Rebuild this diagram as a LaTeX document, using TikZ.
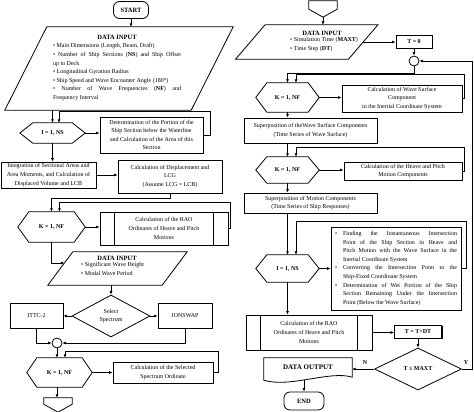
\documentclass[tikz,border=0pt]{standalone}
\usepackage{fontspec}
\setmainfont{Liberation Serif}
\usetikzlibrary{arrows.meta,shapes.geometric,shadows}
\newcommand\hexnode[7]{%
  \node[hexlabel,minimum width=#4pt,minimum height=#5pt] (#1) at (#2,#3) {#7};
  \draw[line] (#1.west) -- ([xshift=#6pt]#1.north west) -- ([xshift=-#6pt]#1.north east) -- (#1.east)
    -- ([xshift=-#6pt]#1.south east) -- ([xshift=#6pt]#1.south west) -- cycle;}
\newcommand\bul{\hangindent=8pt\hangafter=1\noindent\makebox[8pt][l]{\textbullet}}
\begin{document}
\begin{tikzpicture}[x=1pt,y=-1pt,
  line/.style={line width=0.8pt},
  arr/.style={line width=0.8pt,-{Latex[length=3.5pt,width=3pt]}},
  txt/.style={font=\fontsize{6}{8.6}\selectfont},
  box/.style={txt,draw,line width=0.8pt,fill=white,align=center,inner sep=1pt,
    drop shadow={shadow xshift=1.1pt,shadow yshift=-1.1pt,fill=black,opacity=1}},
  term/.style={draw,line width=0.8pt,fill=white,rounded corners=6pt,inner sep=0pt,
    font=\fontsize{6.5}{8}\selectfont\bfseries},
  hexlabel/.style={inner sep=0pt,font=\fontsize{6}{8.6}\selectfont\bfseries},
  anchorbox/.style={inner sep=0pt},
  ttl/.style={inner sep=0pt,font=\fontsize{6.5}{8}\selectfont\bfseries},
  lbl/.style={inner sep=0pt,font=\fontsize{6}{8}\selectfont\bfseries},
  dia/.style={txt,diamond,draw,line width=0.8pt,fill=white,inner sep=0pt,align=center}
]
\useasboundingbox (0,0) rectangle (474,412);

% ================= left column =================
\node[term,minimum width=35pt,minimum height=17pt] (start) at (131,10) {START};

\node[anchorbox,minimum width=186pt,minimum height=83pt] (p1) at (119,68.5) {};
\draw[line] ([xshift=21pt]p1.north west) -- ([xshift=21pt]p1.north east)
  -- ([xshift=-21pt]p1.south east) -- ([xshift=-21pt]p1.south west) -- cycle;
\node[txt,text width=128pt,align=justify,inner sep=0pt] (p1t) at (117,68) {%
{\centering\fontsize{6.5}{8.6}\selectfont\bfseries DATA INPUT\par}
\textbullet~Main Dimensions (Length, Beam, Draft)\par
\textbullet~Number of Ship Sections (\textbf{NS}) and Ship Offset\linebreak up to Deck\par
\textbullet~Longitudinal Gyration Radius\par
\textbullet~Ship Speed and Wave Encounter Angle (180\textdegree)\par
\textbullet~Number of Wave Frequencies (\textbf{NF}) and\linebreak Frequency Interval\par};

\hexnode{h1}{52.5}{133}{65}{20}{13}{I = 1, NS}
\node[box,minimum width=103pt,minimum height=36pt] (det) at (151.5,135)
  {Determination of the Portion of the\\Ship Section below the Waterline\\and Calculation of the Area of this\\Section};
\node[box,minimum width=95pt,minimum height=26pt] (integ) at (48.5,175)
  {Integration of Sectional Areas and\\Area Moments, and Calculation of\\Displaced Volume and LCB};
\node[box,minimum width=104pt,minimum height=33pt] (disp) at (170,176.5)
  {Calculation of Displacement and\\LCG\\(Assume LCG = LCB)};

\hexnode{h2}{51.5}{227}{67}{30}{11}{K = 1, NF}
\node[box,minimum width=128pt,minimum height=33pt] (rao1) at (164,228.5)
  {Calculation of the RAO\\Ordinates of Heave and Pitch\\Motions};
\draw[line] ([xshift=15pt]rao1.north west) -- ([xshift=15pt]rao1.south west);
\draw[line] ([xshift=-15pt]rao1.north east) -- ([xshift=-15pt]rao1.south east);

\node[anchorbox,minimum width=114pt,minimum height=33pt] (p2) at (117.5,268.5) {};
\draw[line] ([xshift=12.5pt]p2.north west) -- ([xshift=12.5pt]p2.north east)
  -- ([xshift=-12.5pt]p2.south east) -- ([xshift=-12.5pt]p2.south west) -- cycle;
\node[ttl] (p2h) at (117,258) {DATA INPUT};
\node[txt,align=left,inner sep=0pt,anchor=north west] (p2t) at (81,262.5) {%
\textbullet~Significant Wave Height\\
\textbullet~Modal Wave Period};

\node[dia,minimum width=78pt,minimum height=42pt] (sel) at (111,316) {Select\\Spectrum};
\node[box,minimum width=53pt,minimum height=25pt] (ittc) at (36.5,315.5) {ITTC-2};
\node[box,minimum width=54pt,minimum height=25pt] (jons) at (185,315.5) {JONSWAP};
\node[draw,line width=0.8pt,circle,minimum size=10pt,inner sep=0pt] (c1) at (57,343) {};

\hexnode{h3}{59.5}{372.5}{65}{29}{10}{K = 1, NF}
\node[box,minimum width=100pt,minimum height=21pt] (spec) at (163,372.5)
  {Calculation of the Selected\\Spectrum Ordinate};

\node[anchorbox,minimum width=28pt,minimum height=14pt] (offA) at (58,405) {};
\draw[line] (offA.north west) -- (offA.north east) -- ([yshift=8pt]offA.south east)
  -- (offA.south) -- ([yshift=8pt]offA.south west) -- cycle;

% ================= right column =================
\node[anchorbox,minimum width=28pt,minimum height=16pt] (offB) at (323,9) {};
\draw[line] (offB.north west) -- (offB.north east) -- ([yshift=8pt]offB.south east)
  -- (offB.south) -- ([yshift=8pt]offB.south west) -- cycle;

\node[anchorbox,minimum width=112.5pt,minimum height=34pt] (p3) at (306.75,42) {};
\draw[line] ([xshift=14.75pt]p3.north west) -- ([xshift=14.75pt]p3.north east)
  -- ([xshift=-14.75pt]p3.south east) -- ([xshift=-14.75pt]p3.south west) -- cycle;
\node[ttl] (p3h) at (322,33) {DATA INPUT};
\node[txt,align=left,inner sep=0pt,anchor=north west] (p3t) at (290,37.5) {%
\textbullet~Simulation Time (\textbf{MAXT})\\
\textbullet~Time Step (\textbf{DT})};

\node[box,minimum width=36pt,minimum height=13pt,font=\fontsize{6}{8}\selectfont\bfseries] (t0) at (414,41.5) {T = 0};
\node[draw,line width=0.8pt,circle,minimum size=10pt,inner sep=0pt] (c2) at (414,61) {};

\hexnode{h4}{287.5}{97.5}{63}{29}{11}{K = 1, NF}
\node[box,minimum width=120pt,minimum height=27pt] (wave) at (402,98.5)
  {Calculation of Wave Surface\\Component\\in the Inertial Coordinate System};
\node[box,minimum width=133pt,minimum height=25pt] (sup1) at (310.5,130.5)
  {Superposition of theWave Surface Components\\(Time Series of Wave Surface)};

\hexnode{h5}{287.5}{170}{63}{26}{11}{K = 1, NF}
\node[box,minimum width=118pt,minimum height=18pt] (hp) at (403,171)
  {Calculation of the Heave and Pitch\\Motion Components};
\node[box,minimum width=133pt,minimum height=20pt] (sup2) at (310.5,203)
  {Superposition of Motion Components\\(Time Series of Ship Responses)};

\hexnode{h6}{287.5}{268.5}{63}{27}{11}{I = 1, NS}
\node[box,text width=122pt,align=justify,inner xsep=4pt,inner ysep=0pt,minimum height=83pt] (big) at (396,268.5) {%
\bul Finding the Instantaneous Intersection\linebreak Point of the Ship Section in Heave and\linebreak Pitch Motion with the Wave Surface in the\linebreak Inertial Coordinate System\par
\bul Converting the Intersection Point to the\linebreak Ship-Fixed Coordinate System\par
\bul Determination of Wet Portion of the Ship\linebreak Section Remaining Under the Intersection\linebreak Point (Below the Wave Surface)\par};

\node[box,minimum width=126pt,minimum height=35pt] (rao2) at (309,332.5)
  {Calculation of the RAO\\Ordinates of Heave and Pitch\\Motions};
\draw[line] ([xshift=15pt]rao2.north west) -- ([xshift=15pt]rao2.south west);
\draw[line] ([xshift=-15pt]rao2.north east) -- ([xshift=-15pt]rao2.south east);

\node[box,minimum width=47pt,minimum height=13pt,font=\fontsize{6}{8}\selectfont\bfseries] (tdt) at (418,331.5) {T = T+DT};
\node[dia,minimum width=87pt,minimum height=42pt,font=\fontsize{6}{8}\selectfont\bfseries] (dia) at (418,369) {T ≤ MAXT};

\node[anchorbox,minimum width=88pt,minimum height=22pt] (dout) at (308,369) {};
\draw[line,fill=white] (dout.north west) -- (dout.north east) -- ([yshift=3pt]dout.south east)
  .. controls +(-22,-7) and +(26,8) .. (dout.south west) -- cycle;
\node[inner sep=0pt,font=\fontsize{7}{8}\selectfont\bfseries] (doutt) at (308,367.5) {DATA OUTPUT};

\node[term,minimum width=40pt,minimum height=18pt] (end) at (304,401) {END};

\node[lbl] (nlab) at (365,363) {N};
\node[lbl] (ylab) at (466,363) {Y};

% ================= connectors =================
\draw[arr] (start.south) -- (start.south |- p1.north);
\draw[arr] (h1.north |- p1.south) -- (h1.north);
\draw[arr] (det.east) -- ++(7,0) |- ([xshift=6.5pt,yshift=11pt]h1.north) -- ([xshift=6.5pt]h1.north);
\draw[arr] (h1.east) -- (h1.east -| det.west);
\draw[arr] (h1.south) -- (h1.south |- integ.north);
\draw[arr] (integ.east) -- (integ.east -| disp.west);
\draw[arr] (disp.south) -- ++(0,5) -| (h2.north);
\draw[arr] (rao1.east) -- ++(2,0) |- ([xshift=8pt,yshift=9pt]h2.north) -- ([xshift=8pt]h2.north);
\draw[arr] (h2.east) -- (h2.east -| rao1.west);
\draw[arr] (h2.south) |- ([xshift=4.2pt,yshift=5.5pt]p2.west);
\draw[arr] (p2.south -| sel.north) -- (sel.north);
\draw[arr] (sel.west) -- (sel.west -| ittc.east);
\draw[arr] (sel.east) -- (sel.east -| jons.west);
\draw[arr] (ittc.south) |- (c1.west);
\draw[arr] (jons.south) |- (c1.east);
\draw[arr] (c1.south) -- (c1.south |- h3.north);
\draw[arr] (spec.east) -- ++(5,0) |- ([xshift=5.5pt,yshift=6pt]h3.north) -- ([xshift=5.5pt]h3.north);
\draw[arr] (h3.east) -- (h3.east -| spec.west);
\draw[arr] (c1.south |- h3.south) -- (c1.south |- offA.north);

\draw[arr] (offB.south) -- (offB.south |- p3.north);
\draw[arr] (p3.east) -- (p3.east -| t0.west);
\draw[arr] (t0.south) -- (c2.north);
\draw[arr] (c2.south) -- ++(0,7) -| (h4.north);
\draw[arr] (wave.east) -- ++(2,0) |- ([xshift=8.5pt,yshift=8pt]h4.north) -- ([xshift=8.5pt]h4.north);
\draw[arr] (h4.east) -- (h4.east -| wave.west);
\draw[arr] (h4.south) -- (h4.south |- sup1.north);
\draw[arr] (h5.north |- sup1.south) -- (h5.north);
\draw[arr] (hp.east) -- ++(2,0) |- ([xshift=8.5pt,yshift=9pt]h5.north) -- ([xshift=8.5pt]h5.north);
\draw[arr] (h5.east) -- (h5.east -| hp.west);
\draw[arr] (h5.south) -- (h5.south |- sup2.north);
\draw[arr] (h6.north |- sup2.south) -- (h6.north);
\draw[arr] (big.east) -- ++(5,0) |- ([xshift=8.5pt,yshift=33pt]h6.north) -- ([xshift=8.5pt]h6.north);
\draw[arr] (h6.east) -- (h6.east -| big.west);
\draw[arr] (h6.south) -- (h6.south |- rao2.north);
\draw[arr] (rao2.east) -- (rao2.east -| tdt.west);
\draw[arr] (tdt.south) -- (dia.north);
\draw[arr] (dia.west) -- (dia.west -| dout.east);
\draw[arr] (dia.east) -- ++(10.5,0) |- (c2.east);
\draw[arr] (end.north |- dout.south) -- (end.north);
\end{tikzpicture}
\end{document}
